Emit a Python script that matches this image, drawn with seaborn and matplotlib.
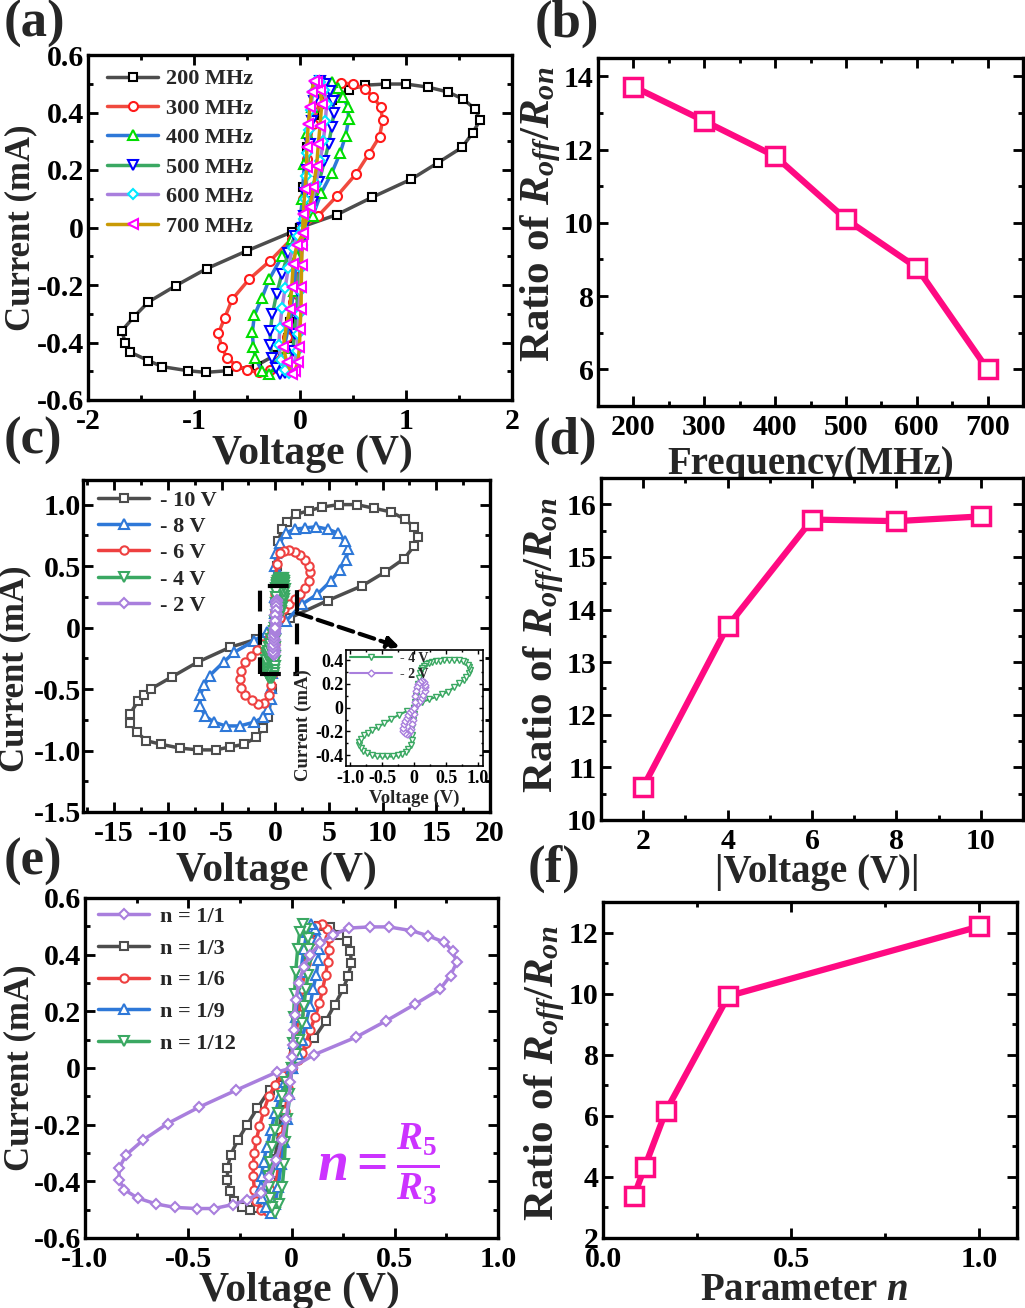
import matplotlib
matplotlib.use('Agg')
import matplotlib.pyplot as plt
import seaborn as sns
from matplotlib.ticker import MultipleLocator
from matplotlib.patches import Rectangle

# ---------------- data: panel (a), I-V loops at different frequencies ----------------
A200_V = [0.00, 0.35, 0.68, 1.05, 1.30, 1.53, 1.63, 1.70, 1.65, 1.54, 1.40, 1.21, 1.00, 0.81, 0.61, 0.46, 0.30, 0.13, 0.07, 0.03,
          0.00, -0.03, -0.06, -0.09, -0.11, -0.24, -0.41, -0.68, -0.89, -1.06, -1.30, -1.43, -1.60, -1.65, -1.68, -1.57, -1.43,
          -1.17, -0.88, -0.50, -0.08, 0.00]
A200_I = [0.00, 0.045, 0.105, 0.168, 0.225, 0.279, 0.330, 0.374, 0.413, 0.446, 0.471, 0.488, 0.499, 0.499, 0.495, 0.480, 0.445,
          0.390, 0.280, 0.140, 0.00, -0.140, -0.250, -0.330, -0.385, -0.445, -0.480, -0.498, -0.504, -0.498, -0.484, -0.463,
          -0.434, -0.400, -0.359, -0.312, -0.259, -0.202, -0.143, -0.081, -0.016, 0.00]
A300_V = [0.02, 0.17, 0.35, 0.53, 0.65, 0.75, 0.78, 0.76, 0.69, 0.61, 0.50, 0.39, 0.28, 0.19, 0.12, 0.07, 0.03, 0.00, -0.03, -0.07,
          -0.12, -0.19, -0.28, -0.39, -0.50, -0.60, -0.69, -0.74, -0.77, -0.71, -0.64, -0.48, -0.28, -0.08, 0.02]
A300_I = [0.00, 0.040, 0.110, 0.187, 0.256, 0.316, 0.374, 0.418, 0.455, 0.482, 0.498, 0.504, 0.490, 0.440, 0.360, 0.240, 0.100,
          -0.020, -0.140, -0.260, -0.380, -0.460, -0.495, -0.504, -0.496, -0.480, -0.453, -0.415, -0.368, -0.314, -0.250,
          -0.180, -0.115, -0.040, 0.00]
A400_V = [0.02, 0.12, 0.20, 0.30, 0.38, 0.43, 0.46, 0.45, 0.41, 0.36, 0.30, 0.23, 0.16, 0.11, 0.07, 0.04, 0.02, 0.00, -0.03, -0.06,
          -0.10, -0.15, -0.22, -0.29, -0.36, -0.42, -0.44, -0.45, -0.43, -0.36, -0.29, -0.17, -0.08, 0.02]
A400_I = [0.00, 0.04, 0.12, 0.19, 0.26, 0.32, 0.376, 0.418, 0.455, 0.484, 0.507, 0.51, 0.48, 0.42, 0.33, 0.22, 0.10, -0.02, -0.10,
          -0.22, -0.33, -0.42, -0.48, -0.51, -0.498, -0.455, -0.415, -0.365, -0.305, -0.246, -0.18, -0.10, -0.04, 0.00]
A500_V = [0.03, 0.12, 0.18, 0.23, 0.27, 0.30, 0.32, 0.31, 0.28, 0.24, 0.19, 0.15, 0.13, 0.11, 0.09, 0.07, 0.05, 0.035, 0.02, 0.00,
          -0.02, -0.035, -0.05, -0.07, -0.10, -0.14, -0.19, -0.23, -0.26, -0.28, -0.28, -0.26, -0.22, -0.17, -0.11, -0.05, 0.03]
A500_I = [0.00, 0.09, 0.16, 0.23, 0.29, 0.35, 0.40, 0.44, 0.475, 0.50, 0.51, 0.49, 0.44, 0.37, 0.29, 0.20, 0.12, 0.04, -0.06, -0.14,
          -0.22, -0.30, -0.37, -0.43, -0.48, -0.505, -0.51, -0.49, -0.455, -0.41, -0.36, -0.30, -0.23, -0.16, -0.09, -0.03, 0.00]
A600_V = [0.03, 0.10, 0.15, 0.19, 0.22, 0.24, 0.25, 0.23, 0.19, 0.15, 0.12, 0.10, 0.085, 0.07, 0.06, 0.045, 0.035, 0.02, 0.01, 0.00,
          -0.01, -0.02, -0.03, -0.06, -0.10, -0.14, -0.18, -0.20, -0.19, -0.17, -0.14, -0.11, -0.07, -0.02, 0.03]
A600_I = [0.00, 0.07, 0.15, 0.23, 0.30, 0.37, 0.43, 0.48, 0.505, 0.51, 0.47, 0.41, 0.34, 0.26, 0.18, 0.10, 0.03, -0.06, -0.14, -0.22,
          -0.30, -0.37, -0.43, -0.48, -0.505, -0.495, -0.46, -0.41, -0.35, -0.28, -0.21, -0.14, -0.07, -0.03, 0.00]
A700_V = [0.03, 0.09, 0.126, 0.157, 0.173, 0.189, 0.205, 0.19, 0.157, 0.13, 0.11, 0.094, 0.078, 0.063, 0.063, 0.047, 0.031, 0.02,
          0.015, 0.012, 0.01, 0.0, -0.005, -0.02, -0.05, -0.078, -0.126, -0.157, -0.126, -0.094, -0.078, -0.063, -0.03, 0.03]
A700_I = [-0.02, 0.07, 0.14, 0.215, 0.29, 0.354, 0.43, 0.48, 0.505, 0.51, 0.47, 0.418, 0.36, 0.279, 0.209, 0.134, 0.048, -0.06,
          -0.13, -0.207, -0.282, -0.352, -0.416, -0.468, -0.50, -0.508, -0.468, -0.416, -0.334, -0.282, -0.207, -0.126, -0.06, -0.02]

# ---------------- data: panel (c), loops at different amplitudes ----------------
C10_V = [0.0, 1.4, 4.9, 8.1, 10.2, 12.0, 12.9, 13.3, 12.9, 12.1, 10.8, 9.2, 7.6, 5.9, 4.4, 3.1, 1.9, 1.1, 0.6, 0.3, 0.15, 0.05,
         0.0, -0.1, -0.3, -0.65, -1.1, -1.75, -2.9, -4.2, -5.5, -7.2, -8.9, -10.6, -12.0, -12.9, -13.5, -13.5, -12.8, -12.2,
         -11.6, -9.6, -7.2, -4.2, -1.75, 0.0]
C10_I = [0.0, 0.08, 0.22, 0.34, 0.45, 0.56, 0.66, 0.74, 0.82, 0.88, 0.94, 0.97, 1.0, 1.0, 0.98, 0.95, 0.92, 0.86, 0.80, 0.70, 0.5,
         0.25, 0.0, -0.25, -0.5, -0.73, -0.82, -0.89, -0.95, -0.97, -0.995, -0.995, -0.98, -0.95, -0.92, -0.85, -0.78, -0.70,
         -0.60, -0.55, -0.50, -0.40, -0.28, -0.16, -0.095, 0.0]
C8_V = [0.0, 1.0, 2.5, 3.9, 5.2, 6.0, 6.6, 6.8, 6.5, 5.8, 4.9, 3.8, 2.8, 1.8, 1.0, 0.4, 0.1, -0.05, -0.05, 0.0, 0.0, -0.1, -0.2,
        -0.3, -0.35, -0.35, -0.65, -1.1, -2.0, -3.3, -4.6, -5.7, -6.5, -7.0, -7.0, -6.6, -6.1, -4.8, -3.8, -2.0, -0.8, 0.0]
C8_I = [0.0, 0.054, 0.19, 0.27, 0.38, 0.47, 0.55, 0.64, 0.70, 0.77, 0.80, 0.82, 0.81, 0.80, 0.77, 0.69, 0.61, 0.50, 0.38, 0.25,
        0.12, -0.12, -0.25, -0.37, -0.49, -0.58, -0.66, -0.73, -0.77, -0.80, -0.80, -0.77, -0.72, -0.64, -0.55, -0.47, -0.39,
        -0.28, -0.20, -0.11, -0.04, 0.0]
C6_V = [0.0, 0.4, 0.8, 1.3, 1.8, 2.3, 2.8, 3.1, 3.2, 3.1, 2.8, 2.3, 1.8, 1.3, 0.8, 0.4, 0.15, 0.05, 0.0, 0.0, -0.05, -0.1, -0.2,
        -0.35, -0.6, -1.0, -1.6, -2.2, -2.8, -3.2, -3.3, -3.2, -2.8, -2.3, -1.7, -1.1, -0.5, 0.0]
C6_I = [0.0, 0.08, 0.15, 0.19, 0.23, 0.27, 0.32, 0.38, 0.45, 0.50, 0.55, 0.59, 0.615, 0.63, 0.625, 0.61, 0.52, 0.40, 0.27, 0.13,
        -0.13, -0.25, -0.37, -0.47, -0.55, -0.61, -0.62, -0.59, -0.55, -0.49, -0.42, -0.35, -0.28, -0.23, -0.18, -0.135, -0.07, 0.0]
C4_V = [0.0, 0.13, 0.24, 0.34, 0.44, 0.53, 0.62, 0.71, 0.78, 0.82, 0.86, 0.87, 0.86, 0.84, 0.80, 0.76, 0.70, 0.63, 0.55, 0.47,
        0.40, 0.34, 0.28, 0.24, 0.19, 0.16, 0.13, 0.105, 0.09, 0.08, 0.06, 0.05, 0.03, 0.02, 0.0, -0.01, -0.02, -0.03, -0.03,
        -0.04, -0.05, -0.09, -0.13, -0.19, -0.26, -0.34, -0.42, -0.50, -0.58, -0.66, -0.74, -0.80, -0.84, -0.87, -0.87, -0.83,
        -0.79, -0.72, -0.66, -0.56, -0.47, -0.36, -0.24, -0.12, 0.0]
C4_I = [0.0, 0.05, 0.07, 0.09, 0.115, 0.134, 0.17, 0.205, 0.235, 0.26, 0.29, 0.317, 0.34, 0.36, 0.38, 0.39, 0.40, 0.405, 0.405,
        0.40, 0.395, 0.39, 0.382, 0.375, 0.365, 0.35, 0.335, 0.32, 0.29, 0.25, 0.20, 0.15, 0.10, 0.05, 0.0, -0.05, -0.10, -0.16,
        -0.23, -0.27, -0.31, -0.345, -0.37, -0.39, -0.40, -0.41, -0.41, -0.41, -0.41, -0.395, -0.38, -0.36, -0.34, -0.31,
        -0.285, -0.26, -0.23, -0.21, -0.19, -0.16, -0.13, -0.095, -0.06, -0.03, 0.0]
C2_V = [0.0, 0.03, 0.06, 0.09, 0.12, 0.145, 0.165, 0.175, 0.17, 0.15, 0.12, 0.09, 0.065, 0.05, 0.035, 0.02, 0.01, 0.0, -0.01,
        -0.02, -0.035, -0.05, -0.065, -0.09, -0.12, -0.15, -0.17, -0.175, -0.165, -0.145, -0.12, -0.09, -0.06, -0.03, 0.0]
C2_I = [0.0, 0.02, 0.04, 0.06, 0.085, 0.11, 0.14, 0.17, 0.195, 0.215, 0.225, 0.22, 0.2, 0.175, 0.14, 0.1, 0.05, 0.0, -0.05, -0.1,
        -0.14, -0.175, -0.2, -0.22, -0.225, -0.215, -0.195, -0.17, -0.14, -0.11, -0.085, -0.06, -0.04, -0.02, 0.0]

# ---------------- data: panel (e), loops for different n ----------------
E1_V = [0.0, 0.11, 0.31, 0.46, 0.60, 0.72, 0.77, 0.80, 0.78, 0.74, 0.66, 0.58, 0.47, 0.38, 0.28, 0.20, 0.14, 0.09, 0.06, 0.035,
        0.022, 0.015, 0.01, 0.006, 0.003, 0.0, -0.005, -0.012, -0.025, -0.045, -0.075, -0.11, -0.15, -0.215, -0.285, -0.375,
        -0.46, -0.565, -0.655, -0.745, -0.81, -0.835, -0.835, -0.80, -0.72, -0.60, -0.45, -0.27, -0.07, 0.0]
E1_I = [0.0, 0.047, 0.108, 0.167, 0.226, 0.279, 0.326, 0.373, 0.412, 0.444, 0.467, 0.485, 0.498, 0.498, 0.494, 0.47, 0.44, 0.40,
        0.358, 0.30, 0.24, 0.187, 0.134, 0.081, 0.04, 0.0, -0.048, -0.107, -0.18, -0.254, -0.325, -0.384, -0.44, -0.465, -0.482,
        -0.496, -0.496, -0.492, -0.48, -0.459, -0.429, -0.394, -0.353, -0.306, -0.255, -0.196, -0.139, -0.079, -0.014, 0.0]
E3_V = [0.0, 0.04, 0.11, 0.165, 0.21, 0.25, 0.275, 0.29, 0.285, 0.27, 0.23, 0.185, 0.135, 0.10, 0.075, 0.055, 0.04, 0.025, 0.01,
        0.0, -0.02, -0.04, -0.06, -0.08, -0.10, -0.13, -0.17, -0.20, -0.24, -0.28, -0.30, -0.31, -0.31, -0.295, -0.26, -0.215,
        -0.165, -0.105, -0.05, 0.0]
E3_I = [0.0, 0.047, 0.106, 0.165, 0.224, 0.279, 0.326, 0.371, 0.412, 0.447, 0.471, 0.498, 0.502, 0.48, 0.42, 0.34, 0.24, 0.14,
        0.06, 0.0, -0.05, -0.12, -0.22, -0.32, -0.40, -0.46, -0.495, -0.50, -0.491, -0.468, -0.435, -0.394, -0.353, -0.306,
        -0.255, -0.20, -0.141, -0.076, -0.03, 0.0]
E6_V = [0.0, 0.03, 0.05, 0.07, 0.09, 0.115, 0.135, 0.15, 0.165, 0.175, 0.18, 0.18, 0.17, 0.15, 0.12, 0.095, 0.07, 0.05, 0.035,
        0.02, 0.008, 0.0, -0.015, -0.03, -0.045, -0.06, -0.075, -0.095, -0.12, -0.15, -0.17, -0.18, -0.185, -0.185, -0.18,
        -0.17, -0.155, -0.135, -0.11, -0.08, -0.045, 0.0]
E6_I = [0.0, 0.03, 0.052, 0.087, 0.134, 0.181, 0.228, 0.275, 0.328, 0.375, 0.418, 0.458, 0.49, 0.51, 0.50, 0.45, 0.37, 0.28, 0.19,
        0.11, 0.05, 0.0, -0.07, -0.15, -0.24, -0.33, -0.41, -0.47, -0.506, -0.50, -0.47, -0.43, -0.382, -0.341, -0.30, -0.253,
        -0.206, -0.153, -0.10, -0.06, -0.025, 0.0]
E9_V = [0.0, 0.03, 0.05, 0.07, 0.09, 0.105, 0.12, 0.13, 0.135, 0.13, 0.115, 0.095, 0.075, 0.06, 0.045, 0.03, 0.02, 0.01, 0.0,
        -0.01, -0.02, -0.035, -0.05, -0.065, -0.08, -0.10, -0.125, -0.145, -0.15, -0.145, -0.135, -0.12, -0.10, -0.08, -0.055,
        -0.03, 0.0]
E9_I = [0.0, 0.05, 0.10, 0.16, 0.22, 0.28, 0.33, 0.38, 0.42, 0.46, 0.49, 0.51, 0.48, 0.42, 0.34, 0.26, 0.18, 0.09, 0.0, -0.09,
        -0.18, -0.26, -0.34, -0.42, -0.48, -0.51, -0.49, -0.46, -0.42, -0.38, -0.33, -0.28, -0.22, -0.16, -0.10, -0.05, 0.0]
E12_V = [0.0, 0.02, 0.035, 0.05, 0.06, 0.07, 0.08, 0.085, 0.085, 0.08, 0.07, 0.055, 0.04, 0.03, 0.02, 0.015, 0.01, 0.005, 0.0,
         -0.01, -0.02, -0.03, -0.035, -0.045, -0.06, -0.08, -0.095, -0.105, -0.11, -0.11, -0.105, -0.095, -0.08, -0.065, -0.045,
         -0.025, 0.0]
E12_I = [0.0, 0.05, 0.10, 0.16, 0.22, 0.28, 0.33, 0.38, 0.42, 0.46, 0.49, 0.51, 0.48, 0.42, 0.34, 0.26, 0.18, 0.09, 0.0, -0.09,
         -0.18, -0.26, -0.34, -0.42, -0.48, -0.51, -0.49, -0.46, -0.42, -0.38, -0.33, -0.28, -0.22, -0.16, -0.10, -0.05, 0.0]

# ---------------- data: right column, Roff/Ron ratios ----------------
FREQ = [200, 300, 400, 500, 600, 700]
RATIO_FREQ = [13.72, 12.78, 11.82, 10.10, 8.78, 6.00]
VOLT_ABS = [2, 4, 6, 8, 10]
RATIO_VOLT = [10.63, 13.68, 15.71, 15.68, 15.77]
N_PARAM = [0.083, 0.111, 0.167, 0.333, 1.0]
RATIO_N = [3.39, 4.33, 6.15, 9.92, 12.2]

GRAY = '#4d4d4d'
RED = '#ee4040'
BLUE = '#2e78d8'
GREEN = '#3aa862'
PURPLE = '#a97fdd'
PINK = '#ff0a82'

sns.set_style('ticks')
plt.rcParams['font.family'] = ['Liberation Serif', 'DejaVu Serif']
plt.rcParams['font.weight'] = 'bold'
plt.rcParams['axes.labelweight'] = 'bold'
plt.rcParams['axes.unicode_minus'] = False
plt.rcParams['axes.edgecolor'] = 'black'
plt.rcParams['xtick.color'] = 'black'
plt.rcParams['ytick.color'] = 'black'
plt.rcParams['mathtext.fontset'] = 'custom'
plt.rcParams['mathtext.rm'] = 'Liberation Serif:bold'
plt.rcParams['mathtext.it'] = 'Liberation Serif:italic:bold'
plt.rcParams['mathtext.bf'] = 'Liberation Serif:bold'


def loop(ax, v, i, line, edge, marker, label, ms=5.5, lw=2.5, mew=1.5, z=2):
    sns.lineplot(x=v, y=i, ax=ax, sort=False, estimator=None, color=line, linewidth=lw,
                 marker=marker, markersize=ms, markerfacecolor='white', markeredgecolor=edge,
                 markeredgewidth=mew, label=label, zorder=z, legend=False)


def ratio(ax, x, y):
    sns.lineplot(x=x, y=y, ax=ax, sort=False, estimator=None, color=PINK, linewidth=4.5,
                 marker='s', markersize=13, markerfacecolor='white', markeredgecolor=PINK,
                 markeredgewidth=2.5, zorder=3, legend=False)


def style(ax, xt, xl, xm, yt, yl, ym, size=21.5, spine=2.4, major=7, xpad=6, ypad=3):
    for s in ax.spines.values():
        s.set_linewidth(spine)
        s.set_color('black')
    ax.set_xticks(xt, xl)
    ax.set_yticks(yt, yl)
    ax.xaxis.set_minor_locator(MultipleLocator(xm))
    ax.yaxis.set_minor_locator(MultipleLocator(ym))
    ax.tick_params(which='both', direction='in', top=True, right=True, width=spine * 0.85, labelsize=size)
    ax.tick_params(which='major', length=major)
    ax.tick_params(which='minor', length=major * 0.55)
    ax.tick_params(axis='x', pad=xpad)
    ax.tick_params(axis='y', pad=ypad)


def axpos(l, t, r, b):
    return [l / 1025, 1 - b / 1308, (r - l) / 1025, (b - t) / 1308]


fig = plt.figure(figsize=(10.25, 13.08), dpi=100)
fig.patch.set_facecolor('white')

ax_a = fig.add_axes(axpos(88, 55, 512, 400))
ax_b = fig.add_axes(axpos(598, 58, 1023, 406))
ax_c = fig.add_axes(axpos(83, 480, 490, 812))
ax_d = fig.add_axes(axpos(601, 478, 1023, 820))
ax_e = fig.add_axes(axpos(85, 898, 498, 1238))
ax_f = fig.add_axes(axpos(603, 902, 1017, 1238))

# ---- (a) ----
loop(ax_a, A200_V, A200_I, GRAY, 'black', 's', '200 MHz', ms=6, z=2)
loop(ax_a, A300_V, A300_I, '#f04a3e', '#ff1a1a', 'o', '300 MHz', ms=6.5, z=3)
loop(ax_a, A400_V, A400_I, BLUE, '#00dd00', '^', '400 MHz', ms=7, z=4)
loop(ax_a, A500_V, A500_I, GREEN, '#0000ff', 'v', '500 MHz', ms=7, z=5)
loop(ax_a, A600_V, A600_I, PURPLE, '#00e8ff', 'D', '600 MHz', ms=5.5, z=6)
loop(ax_a, A700_V, A700_I, '#c99a06', '#ff00ff', '<', '700 MHz', ms=7, z=7)
ax_a.set_xlim(-2, 2)
ax_a.set_ylim(-0.6, 0.6)
style(ax_a, [-2, -1, 0, 1, 2], ['-2', '-1', '0', '1', '2'], 0.5,
      [-0.6, -0.4, -0.2, 0, 0.2, 0.4, 0.6], ['-0.6', '-0.4', '-0.2', '0', '0.2', '0.4', '0.6'], 0.1)
ax_a.legend(loc='upper left', bbox_to_anchor=(0.045, 0.96), frameon=False, fontsize=16,
            handlelength=2.3, handletextpad=0.35, labelspacing=0.4, borderaxespad=0, borderpad=0)

# ---- (c) ----
loop(ax_c, C10_V, C10_I, GRAY, GRAY, 's', '- 10 V', ms=5.5, z=2)
loop(ax_c, C8_V, C8_I, BLUE, BLUE, '^', '- 8 V', ms=6.5, z=3)
loop(ax_c, C6_V, C6_I, RED, RED, 'o', '- 6 V', ms=6, z=4)
loop(ax_c, C4_V, C4_I, GREEN, GREEN, 'v', '- 4 V', ms=7, z=5)
loop(ax_c, C2_V, C2_I, PURPLE, PURPLE, 'D', '- 2 V', ms=5.5, z=6)
ax_c.set_xlim(-17.9, 20)
ax_c.set_ylim(-1.5, 1.2)
style(ax_c, [-15, -10, -5, 0, 5, 10, 15, 20], ['-15', '-10', '-5', '0', '5', '10', '15', '20'], 2.5,
      [-1.5, -1.0, -0.5, 0, 0.5, 1.0], ['-1.5', '-1.0', '-0.5', '0', '0.5', '1.0'], 0.25, ypad=1.5)
ax_c.legend(loc='upper left', bbox_to_anchor=(0.037, 0.97), frameon=False, fontsize=16,
            handlelength=2.3, handletextpad=0.5, labelspacing=0.26, borderaxespad=0, borderpad=0)
ax_c.add_patch(Rectangle((-1.4, -0.38), 3.4, 0.72, fill=False, ec='black', lw=3,
                         ls=(0, (5, 3)), zorder=8))
arr = ax_c.annotate('', xy=(11.6, -0.16), xytext=(2.0, 0.12),
                    arrowprops=dict(arrowstyle='-|>,head_length=0.7,head_width=0.35', ls='--',
                                    lw=3, color='black', shrinkA=0, shrinkB=0))
arr.arrow_patch.set_zorder(8)

# inset of (c)
ax_in = fig.add_axes(axpos(346, 650, 483, 766))
ax_in.set_facecolor('white')
loop(ax_in, C4_V, C4_I, GREEN, GREEN, 'v', '- 4 V', ms=4, lw=1.5, mew=1, z=2)
loop(ax_in, C2_V, C2_I, PURPLE, PURPLE, 'D', '- 2 V', ms=3.5, lw=1.5, mew=1, z=3)
ax_in.set_xlim(-1.07, 1.08)
ax_in.set_ylim(-0.49, 0.485)
style(ax_in, [-1.0, -0.5, 0, 0.5, 1.0], ['-1.0', '-0.5', '0', '0.5', '1.0'], 0.25,
      [-0.4, -0.2, 0, 0.2, 0.4], ['-0.4', '-0.2', '0', '0.2', '0.4'], 0.1,
      size=13, spine=1.2, major=3, xpad=3, ypad=2)
ax_in.set_xlabel('Voltage (V)', fontsize=13.5)
ax_in.set_ylabel('Current (mA)', fontsize=13.5)
ax_in.xaxis.set_label_coords(0.5, -0.2)
ax_in.yaxis.set_label_coords(-0.245, 0.35)
ax_in.legend(loc='upper left', bbox_to_anchor=(0.03, 0.985), frameon=False, fontsize=10,
             handlelength=3.0, handletextpad=0.6, labelspacing=0.25, borderaxespad=0, borderpad=0)
ax_in.set_zorder(10)

# ---- (e) ----
loop(ax_e, E3_V, E3_I, GRAY, GRAY, 's', 'n = 1/3', ms=5.5, z=2)
loop(ax_e, E6_V, E6_I, RED, RED, 'o', 'n = 1/6', ms=6, z=3)
loop(ax_e, E9_V, E9_I, BLUE, BLUE, '^', 'n = 1/9', ms=6.5, z=4)
loop(ax_e, E12_V, E12_I, GREEN, GREEN, 'v', 'n = 1/12', ms=6.5, z=5)
loop(ax_e, E1_V, E1_I, PURPLE, PURPLE, 'D', 'n = 1/1', ms=5.5, z=6)
ax_e.set_xlim(-1.0, 1.0)
ax_e.set_ylim(-0.6, 0.6)
style(ax_e, [-1.0, -0.5, 0, 0.5, 1.0], ['-1.0', '-0.5', '0', '0.5', '1.0'], 0.25,
      [-0.6, -0.4, -0.2, 0, 0.2, 0.4, 0.6], ['-0.6', '-0.4', '-0.2', '0', '0.2', '0.4', '0.6'], 0.1)
h, l = ax_e.get_legend_handles_labels()
order = ['n = 1/1', 'n = 1/3', 'n = 1/6', 'n = 1/9', 'n = 1/12']
hl = dict(zip(l, h))
ax_e.legend([hl[k] for k in order], order, loc='upper left', bbox_to_anchor=(0.032, 0.975),
            frameon=False, fontsize=16, handlelength=2.3, handletextpad=0.5, labelspacing=0.5,
            borderaxespad=0, borderpad=0)
ax_e.text(0.42, -0.34, r'$n=\frac{R_5}{R_3}$', color='#cc33ff', fontsize=40, ha='center', va='center')

for ax in (ax_a, ax_c, ax_e):
    ax.set_xlabel('Voltage (V)', fontsize=30)
    ax.set_ylabel('Current (mA)', fontsize=25)
ax_a.xaxis.set_label_coords(0.53, -0.1)
ax_a.yaxis.set_label_coords(-0.12, 0.5)
ax_c.xaxis.set_label_coords(0.476, -0.118)
ax_c.yaxis.set_label_coords(-0.128, 0.43)
ax_e.xaxis.set_label_coords(0.52, -0.1)
ax_e.yaxis.set_label_coords(-0.118, 0.5)

# ---- right column ----
ratio(ax_b, FREQ, RATIO_FREQ)
ax_b.set_xlim(150, 750)
ax_b.set_ylim(5, 14.5)
style(ax_b, FREQ, [str(f) for f in FREQ], 50, [6, 8, 10, 12, 14], ['6', '8', '10', '12', '14'], 1)
ax_b.set_xlabel('Frequency(MHz)', fontsize=28)
ax_b.xaxis.set_label_coords(0.5, -0.115)

ratio(ax_d, VOLT_ABS, RATIO_VOLT)
ax_d.set_xlim(1, 11)
ax_d.set_ylim(10, 16.5)
style(ax_d, VOLT_ABS, [str(v) for v in VOLT_ABS], 1, [10, 11, 12, 13, 14, 15, 16],
      ['10', '11', '12', '13', '14', '15', '16'], 0.5)
ax_d.set_xlabel('|Voltage (V)|', fontsize=28)
ax_d.xaxis.set_label_coords(0.513, -0.1)

ratio(ax_f, N_PARAM, RATIO_N)
ax_f.set_xlim(0, 1.1)
ax_f.set_ylim(2, 13)
style(ax_f, [0.0, 0.5, 1.0], ['0.0', '0.5', '1.0'], 0.25, [2, 4, 6, 8, 10, 12], ['2', '4', '6', '8', '10', '12'], 1)
ax_f.set_xlabel('Parameter $n$', fontsize=28)
ax_f.xaxis.set_label_coords(0.486, -0.1)

for ax, xc, yc in ((ax_b, -0.082, 0.55), (ax_d, -0.083, 0.51), (ax_f, -0.087, 0.49)):
    ax.set_ylabel('Ratio of $R_{off}/R_{on}$', fontsize=31)
    ax.yaxis.set_label_coords(xc, yc)

# ---- panel letters ----
for txt, x, y in (('(a)', 4, 0), ('(b)', 535, 0), ('(c)', 4, 417), ('(d)', 533, 417),
                  ('(e)', 4, 838), ('(f)', 528, 845)):
    fig.text(x / 1025, 1 - y / 1308, txt, fontsize=38, fontweight='bold', ha='left', va='top')

fig.savefig('out.png', dpi=100)
